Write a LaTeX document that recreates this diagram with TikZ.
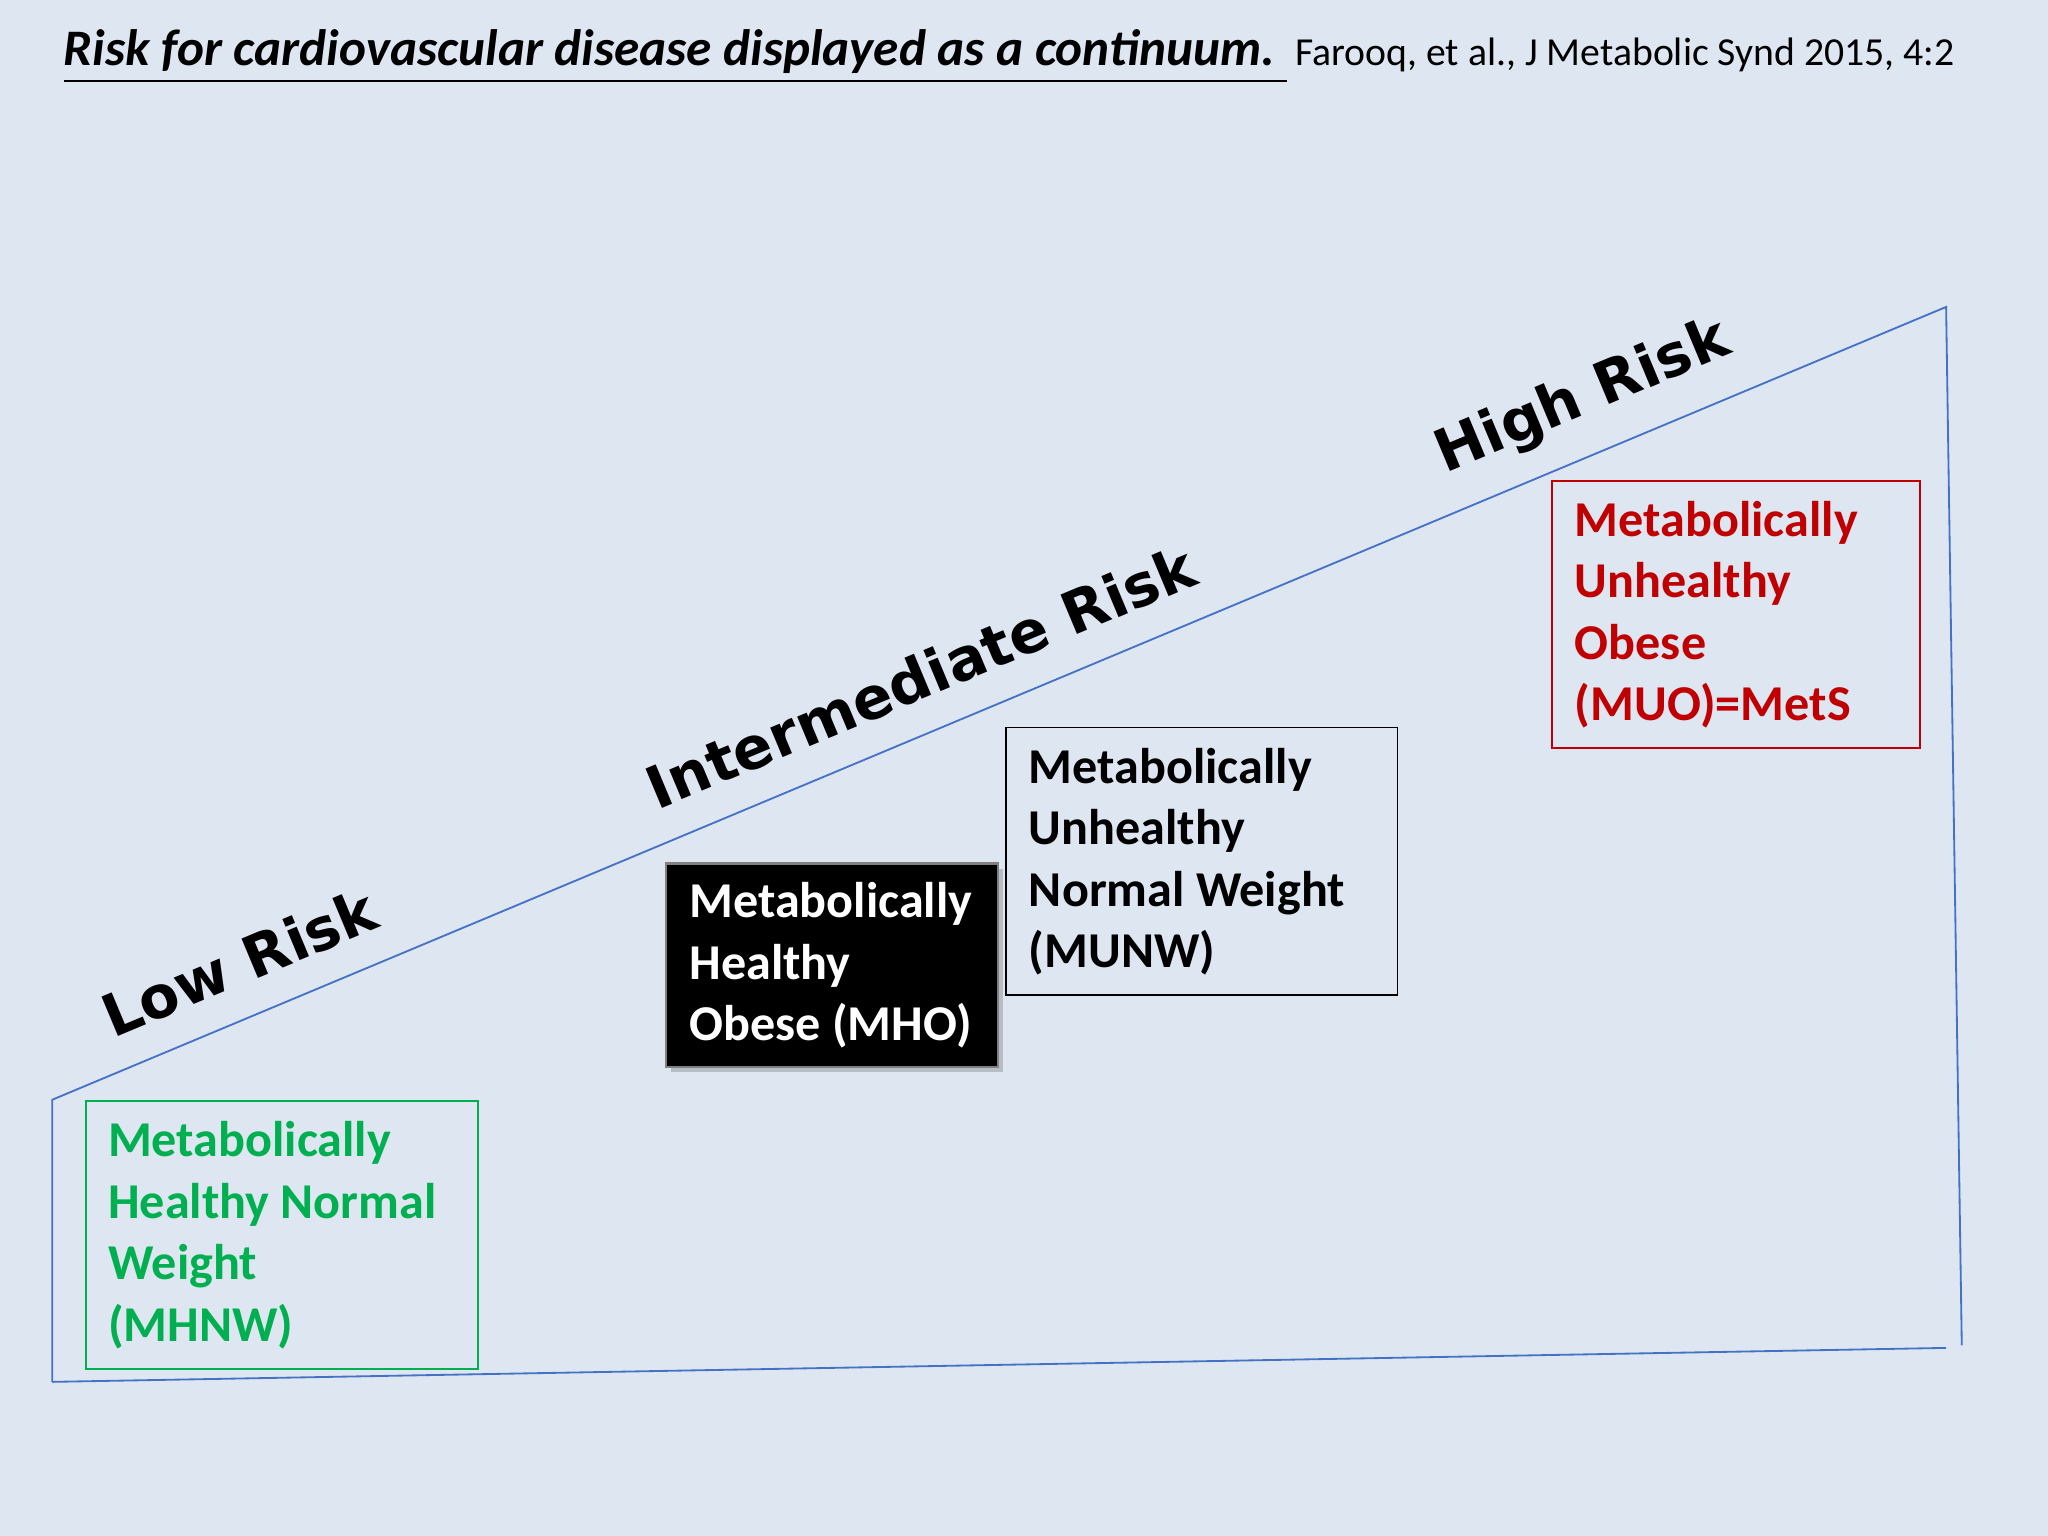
\documentclass[tikz,border=0pt]{standalone}
\usepackage{fontspec}
\setmainfont{Carlito}
\newfontfamily\riskfont{DejaVu Sans}
\usetikzlibrary{shadows}
\definecolor{bg}{RGB}{222,230,242}
\definecolor{tri}{RGB}{68,114,196}
\definecolor{grn}{RGB}{0,176,80}
\definecolor{dred}{RGB}{192,0,0}
\tikzset{
  boxtext/.style={anchor=north west,align=left,inner sep=0pt,font=\fontsize{9.6}{11.75}\selectfont\bfseries},
  risk/.style={rotate=22.7,font=\riskfont\fontsize{11.2}{13}\selectfont\bfseries,inner sep=0pt},
  edge/.style={draw=tri,line width=0.35pt}
}
\begin{document}
\begin{tikzpicture}[x=0.25pt,y=-0.25pt]
\fill[bg] (0,0) rectangle (1568,1176);
\useasboundingbox (0,0) rectangle (1568,1176);
% title
\node[anchor=base west,inner sep=0pt,font=\fontsize{9.8}{11}\selectfont\bfseries\itshape] (title) at (48,50) {\underline{Risk for cardiovascular disease displayed as a continuum.\ }};
\node[anchor=base west,inner sep=0pt,font=\fontsize{7.6}{9}\selectfont] (cite) at (title.base east) {\,Farooq, et al., J Metabolic Synd 2015, 4:2};
% triangle
\coordinate (tl) at (40,842);
\coordinate (tr) at (1490,235);
\coordinate (br) at (1502,1030);
\coordinate (bl) at (40,1058);
\coordinate (brb) at (1490,1032);
\draw[edge] (bl) -- (tl) -- (tr) -- (br);
\draw[edge] (bl) -- (brb);
% risk labels
\node[risk] (low) at (183,737) {Low Risk};
\node[risk] (mid) at (705,518) {Intermediate Risk};
\node[risk] (high) at (1212,305) {High Risk};
% boxes
\draw[grn,line width=0.35pt] (66,843) rectangle (366,1048);
\node[boxtext,text=grn] (mhnw) at (82,858) {Metabolically\\Healthy Normal\\Weight\\(MHNW)};
\fill[black,drop shadow={shadow xshift=1pt,shadow yshift=-1pt,opacity=0.4}] (510,661) rectangle (764,817);
\draw[gray,line width=0.5pt] (510,661) rectangle (764,817);
\node[boxtext,text=white] (mho) at (527,675) {Metabolically\\Healthy\\Obese (MHO)};
\draw[black,line width=0.35pt] (770,557) rectangle (1070,762);
\node[boxtext,text=black] (munw) at (787,572) {Metabolically\\Unhealthy\\Normal Weight\\(MUNW)};
\draw[dred,line width=0.35pt] (1188,368) rectangle (1470,573);
\node[boxtext,text=dred] (muo) at (1205,383) {Metabolically\\Unhealthy\\Obese\\(MUO)=MetS};
\end{tikzpicture}
\end{document}
